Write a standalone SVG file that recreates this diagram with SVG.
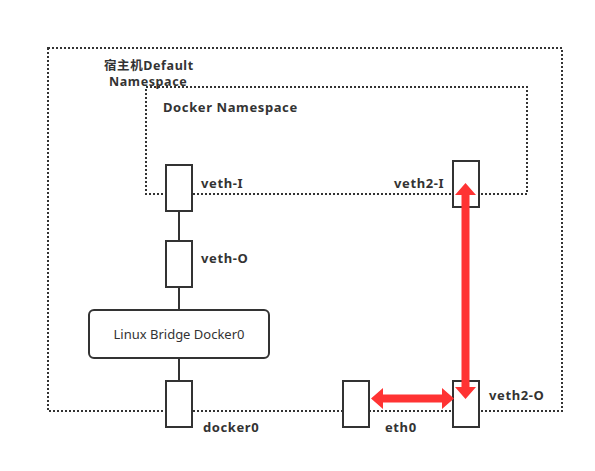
<svg xmlns="http://www.w3.org/2000/svg" width="595" height="471" viewBox="0 0 595 471">
<style>
.ns{fill:none;stroke:#333;stroke-width:2;stroke-dasharray:2 2}
.box{fill:#fff;stroke:#333;stroke-width:2}
.ln{stroke:#333;stroke-width:2;fill:none}
.lb{font-family:"Noto Sans","Noto Sans CJK SC","DejaVu Sans",sans-serif;font-weight:bold;font-size:13px;letter-spacing:0.6px;fill:#333}
.tx{font-family:"Noto Sans","DejaVu Sans",sans-serif;font-size:13px;fill:#333}
.red{fill:#ff3333}
</style>
<rect width="595" height="471" fill="#fff"/>
<g id="default-ns">
<rect class="ns" x="48" y="48" width="514" height="363"/>
<text class="lb" x="104" y="70" style="font-size:12.5px">宿主机Default</text>
<text class="lb" x="109" y="85.5" style="font-size:12.5px">Namespace</text>
</g>
<g id="docker-ns">
<rect class="ns" x="146" y="87" width="381" height="107"/>
<text class="lb" x="163" y="112">Docker Namespace</text>
</g>
<g id="connectors">
<line class="ln" x1="179" y1="211" x2="179" y2="241"/>
<line class="ln" x1="179" y1="287" x2="179" y2="310"/>
<line class="ln" x1="179" y1="358" x2="179" y2="381"/>
</g>
<g id="veth-I">
<rect class="box" x="166" y="165" width="26" height="46"/>
<text class="lb" x="201" y="188">veth-I</text>
</g>
<g id="veth-O">
<rect class="box" x="166" y="241" width="26" height="46"/>
<text class="lb" x="201" y="263">veth-O</text>
</g>
<g id="bridge">
<rect class="box" x="89" y="310" width="180" height="48" rx="5"/>
<text class="tx" x="179" y="339" text-anchor="middle">Linux Bridge Docker0</text>
</g>
<g id="docker0">
<rect class="box" x="166" y="381" width="26" height="46"/>
<text class="lb" x="203" y="432">docker0</text>
</g>
<g id="eth0">
<rect class="box" x="343" y="381" width="26" height="46"/>
<text class="lb" x="385" y="432">eth0</text>
</g>
<g id="veth2-I">
<rect class="box" x="453" y="161" width="26" height="46"/>
<text class="lb" x="394" y="188">veth2-I</text>
</g>
<g id="veth2-O">
<rect class="box" x="453" y="381" width="26" height="46"/>
<text class="lb" x="489" y="400">veth2-O</text>
</g>
<g id="red-arrows">
<polygon class="red" points="465.5,183 476,195 469.5,195 469.5,387 476,387 465.5,399 455,387 461.5,387 461.5,195 455,195"/>
<polygon class="red" points="371,398.5 383,388 383,394.5 442,394.5 442,388 454,398.5 442,409 442,402.5 383,402.5 383,409"/>
</g>
</svg>
